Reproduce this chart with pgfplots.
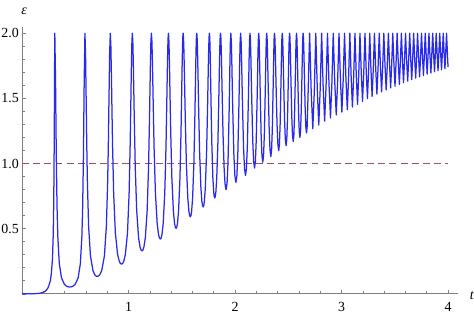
\documentclass[border=0pt]{standalone}
\usepackage{fontspec}
\setmainfont{Liberation Serif}
\usepackage{pgfplots}
\pgfplotsset{compat=1.18}
\definecolor{curveblue}{rgb}{0.16,0.16,0.92}
\definecolor{refline}{rgb}{0.62,0.3,0.4}
\begin{document}
\begin{tikzpicture}
\begin{axis}[
  scale only axis, width=313pt, height=192pt,
  xmin=0, xmax=4.09, ymin=0, ymax=2.05,
  axis lines*=left,
  axis line style={black!50, line width=0.6pt},
  xtick={0,1,2,3,4}, xticklabels={,1,2,3,4},
  ytick={0,0.5,1,1.5,2}, yticklabels={,0.5,1.0,1.5,2.0},
  minor x tick num=4, minor y tick num=4,
  tick align=inside,
  major tick length=3pt, minor tick length=1.8pt,
  tick style={black!50, line width=0.5pt},
  /pgf/number format/assume math mode=true,
  xticklabel style={yshift=-2.7pt},
  yticklabel style={inner sep=1pt, xshift=-1.2pt},
  xlabel={\textit{t}}, ylabel={\textit{ε}},
  every axis x label/.style={at={(axis description cs:1,0)}, anchor=west, inner sep=0pt, xshift=8.6pt, yshift=-1pt},
  every axis y label/.style={at={(axis description cs:0,1)}, anchor=center, inner sep=6pt, xshift=1.5pt, yshift=10.8pt},
  clip=false,
]
\addplot[refline, line width=0.6pt, dash pattern=on 5pt off 3pt] coordinates {(0,1) (4,1)};
\addplot[curveblue, line width=0.9pt, line join=round] coordinates {
(0,0) (0.1,0.0005) (0.15,0.003) (0.18,0.007) (0.2,0.012) (0.22,0.022) (0.24,0.042) (0.25,0.06) (0.265,0.10) (0.275,0.16) (0.285,0.27) (0.292,0.45) (0.297,0.7) (0.300,1.0) (0.303,1.4) (0.305,1.75) (0.307,2.0)
(0.314,1.631) (0.321,1.053) (0.328,0.666) (0.335,0.444) (0.349,0.233) (0.370,0.121) (0.398,0.072) (0.419,0.058) (0.433,0.054) (0.447,0.053)
(0.4613,0.054) (0.4756,0.058) (0.4971,0.072) (0.5257,0.121) (0.5471,0.233) (0.5614,0.444) (0.5686,0.666) (0.5757,1.053) (0.5829,1.631) (0.590,2)
(0.5958,1.842) (0.6015,1.492) (0.6073,1.137) (0.6130,0.858) (0.6245,0.517) (0.6418,0.291) (0.6648,0.180) (0.682,0.147) (0.6935,0.137) (0.705,0.134)
(0.7173,0.137) (0.7296,0.147) (0.7481,0.180) (0.7727,0.291) (0.7911,0.517) (0.8034,0.858) (0.8096,1.137) (0.8157,1.492) (0.8219,1.842) (0.828,2)
(0.8333,1.909) (0.8386,1.680) (0.8439,1.405) (0.8492,1.148) (0.8598,0.769) (0.8757,0.467) (0.8969,0.301) (0.9128,0.249) (0.9234,0.233) (0.934,0.228)
(0.9441,0.233) (0.9542,0.249) (0.9694,0.301) (0.9896,0.467) (1.0047,0.769) (1.0148,1.148) (1.0199,1.405) (1.0249,1.680) (1.0300,1.909) (1.035,2)
(1.0396,1.940) (1.0441,1.780) (1.0487,1.568) (1.0532,1.348) (1.0623,0.979) (1.0760,0.638) (1.0942,0.427) (1.1078,0.359) (1.1169,0.337) (1.126,0.330)
(1.1348,0.337) (1.1436,0.359) (1.1568,0.427) (1.1744,0.638) (1.1876,0.979) (1.1964,1.348) (1.2008,1.568) (1.2052,1.780) (1.2096,1.940) (1.214,2)
(1.2182,1.955) (1.2224,1.832) (1.2266,1.661) (1.2308,1.473) (1.2392,1.128) (1.2518,0.775) (1.2686,0.537) (1.2812,0.455) (1.2896,0.429) (1.298,0.421)
(1.3056,0.429) (1.3132,0.455) (1.3246,0.537) (1.3398,0.775) (1.3512,1.128) (1.3588,1.473) (1.3626,1.661) (1.3664,1.832) (1.3702,1.955) (1.374,2)
(1.3776,1.964) (1.3812,1.864) (1.3848,1.721) (1.3884,1.557) (1.3956,1.240) (1.4064,0.887) (1.4208,0.632) (1.4316,0.542) (1.4388,0.512) (1.446,0.503)
(1.4526,0.512) (1.4592,0.542) (1.4691,0.632) (1.4823,0.887) (1.4922,1.240) (1.4988,1.557) (1.5021,1.721) (1.5054,1.864) (1.5087,1.964) (1.512,2)
(1.5154,1.971) (1.5188,1.890) (1.5222,1.770) (1.5256,1.629) (1.5324,1.341) (1.5426,0.997) (1.5562,0.732) (1.5664,0.634) (1.5732,0.601) (1.580,0.591)
(1.586,0.601) (1.592,0.634) (1.601,0.732) (1.613,0.997) (1.622,1.341) (1.628,1.629) (1.631,1.770) (1.634,1.890) (1.637,1.971) (1.640,2)
(1.643,1.976) (1.646,1.907) (1.649,1.804) (1.652,1.679) (1.658,1.416) (1.667,1.085) (1.679,0.815) (1.688,0.712) (1.694,0.678) (1.700,0.667)
(1.7059,0.678) (1.7118,0.712) (1.7207,0.815) (1.7325,1.085) (1.7413,1.416) (1.7472,1.679) (1.7502,1.804) (1.7531,1.907) (1.7561,1.976) (1.759,2)
(1.7615,1.979) (1.764,1.919) (1.7665,1.829) (1.769,1.718) (1.774,1.477) (1.7815,1.160) (1.7915,0.890) (1.799,0.783) (1.804,0.748) (1.809,0.736)
(1.8144,0.748) (1.8198,0.783) (1.8279,0.890) (1.8387,1.160) (1.8468,1.477) (1.8522,1.718) (1.8549,1.829) (1.8576,1.919) (1.8603,1.979) (1.863,2)
(1.8657,1.982) (1.8683,1.929) (1.871,1.849) (1.8736,1.749) (1.8789,1.528) (1.8869,1.225) (1.8975,0.957) (1.9054,0.849) (1.9107,0.812) (1.916,0.800)
(1.9248,0.849) (1.9336,1.009) (1.9446,1.419) (1.9512,1.749) (1.9556,1.929) (1.960,2)
(1.9648,1.937) (1.9696,1.773) (1.9768,1.465) (1.9888,1.066) (1.9984,0.904) (2.008,0.855)
(2.0168,0.904) (2.0256,1.066) (2.0366,1.465) (2.0432,1.773) (2.0476,1.937) (2.052,2)
(2.0566,1.943) (2.0612,1.794) (2.0681,1.506) (2.0796,1.120) (2.0888,0.959) (2.098,0.909)
(2.1064,0.959) (2.1148,1.120) (2.1253,1.506) (2.1316,1.794) (2.1358,1.943) (2.140,2)
(2.1443,1.949) (2.1486,1.814) (2.1551,1.547) (2.1658,1.175) (2.1744,1.015) (2.183,0.965)
(2.1908,1.015) (2.1986,1.175) (2.2084,1.547) (2.2142,1.814) (2.2181,1.949) (2.222,2)
(2.2258,1.953) (2.2296,1.829) (2.2353,1.578) (2.2448,1.218) (2.2524,1.060) (2.260,1.010)
(2.2674,1.060) (2.2748,1.218) (2.2841,1.578) (2.2896,1.829) (2.2933,1.953) (2.297,2)
(2.3009,1.957) (2.3048,1.842) (2.3107,1.606) (2.3204,1.259) (2.3282,1.103) (2.336,1.053)
(2.3428,1.103) (2.3496,1.259) (2.3581,1.606) (2.3632,1.842) (2.3666,1.957) (2.370,2)
(2.374,1.961) (2.378,1.855) (2.384,1.634) (2.394,1.302) (2.402,1.148) (2.410,1.099)
(2.4166,1.148) (2.4232,1.302) (2.4315,1.634) (2.4364,1.855) (2.4397,1.961) (2.443,2)
(2.4466,1.964) (2.4502,1.865) (2.4556,1.657) (2.4646,1.336) (2.4718,1.186) (2.479,1.137)
(2.4856,1.186) (2.4922,1.336) (2.5005,1.657) (2.5054,1.865) (2.5087,1.964) (2.512,2)
(2.5154,1.966) (2.5188,1.873) (2.5239,1.676) (2.5324,1.366) (2.5392,1.218) (2.546,1.170)
(2.5522,1.218) (2.5584,1.366) (2.5662,1.676) (2.5708,1.873) (2.5739,1.966) (2.577,2)
(2.5802,1.968) (2.5834,1.880) (2.5882,1.692) (2.5962,1.392) (2.6026,1.248) (2.609,1.200)
(2.615,1.248) (2.621,1.392) (2.6285,1.692) (2.633,1.880) (2.636,1.968) (2.639,2)
(2.6422,1.970) (2.6454,1.888) (2.6502,1.710) (2.6582,1.422) (2.6646,1.281) (2.671,1.234)
(2.6768,1.281) (2.6855,1.526) (2.700,2) (2.715,1.551) (2.730,1.267) (2.744,1.551) (2.758,2) (2.772,1.572) (2.786,1.295) (2.7995,1.572) (2.813,2)
(2.827,1.594) (2.841,1.325) (2.8545,1.594) (2.868,2) (2.882,1.612) (2.896,1.350) (2.909,1.612) (2.922,2) (2.936,1.628) (2.950,1.372)
(2.963,1.628) (2.976,2) (2.9895,1.644) (3.003,1.395) (3.0155,1.644) (3.028,2) (3.041,1.656) (3.054,1.413) (3.066,1.656) (3.078,2)
(3.090,1.670) (3.102,1.433) (3.114,1.670) (3.126,2) (3.138,1.684) (3.150,1.454) (3.1615,1.684) (3.173,2) (3.185,1.699) (3.197,1.477)
(3.2085,1.699) (3.220,2) (3.2315,1.713) (3.243,1.498) (3.254,1.713) (3.265,2) (3.276,1.724) (3.287,1.515) (3.298,1.724) (3.309,2)
(3.3205,1.736) (3.332,1.533) (3.343,1.736) (3.354,2) (3.365,1.747) (3.376,1.550) (3.3865,1.747) (3.397,2) (3.408,1.756) (3.419,1.565)
(3.4295,1.756) (3.440,2) (3.4505,1.765) (3.461,1.580) (3.471,1.765) (3.481,2) (3.4915,1.774) (3.502,1.594) (3.512,1.774) (3.522,2)
(3.5325,1.782) (3.543,1.607) (3.5525,1.782) (3.562,2) (3.572,1.790) (3.582,1.620) (3.5915,1.790) (3.601,2) (3.611,1.797) (3.621,1.632)
(3.6305,1.797) (3.640,2) (3.6495,1.805) (3.659,1.644) (3.668,1.805) (3.677,2) (3.6865,1.811) (3.696,1.655) (3.705,1.811) (3.714,2)
(3.7235,1.818) (3.733,1.666) (3.742,1.818) (3.751,2) (3.760,1.824) (3.769,1.676) (3.7775,1.824) (3.786,2) (3.795,1.830) (3.804,1.686)
(3.8125,1.830) (3.821,2) (3.830,1.835) (3.839,1.695) (3.8475,1.835) (3.856,2) (3.8645,1.840) (3.873,1.704) (3.881,1.840) (3.889,2)
(3.8975,1.845) (3.906,1.712) (3.914,1.845) (3.922,2) (3.9305,1.849) (3.939,1.720) (3.947,1.849) (3.955,2) (3.963,1.853) (3.971,1.727)
(3.9785,1.853) (3.986,2) (4.000,1.74)
};
\end{axis}
\end{tikzpicture}
\end{document}
